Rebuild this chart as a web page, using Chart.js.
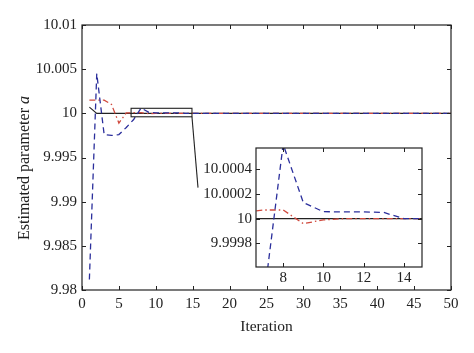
<!DOCTYPE html>
<html>
<head>
<meta charset="utf-8">
<script src="https://cdn.jsdelivr.net/npm/chart.js@4.4.0/dist/chart.umd.min.js"></script>
<style>
  html, body { margin: 0; padding: 0; background: #ffffff; }
  #wrap { position: relative; width: 474px; height: 353px; }
  #main { position: absolute; left: 0; top: 0; }
  #inset { position: absolute; left: 190px; top: 135px; }
</style>
</head>
<body>
<div id="wrap">
  <canvas id="main" width="474" height="353"></canvas>
  <canvas id="inset" width="250" height="162"></canvas>
</div>
<script>
// ---------------- DATA ----------------
const iterations = [1,2,3,4,5,6,7,8,9,10,11,12,13,14,15,16,17,18,19,20,21,22,23,24,25,26,27,28,29,30,31,32,33,34,35,36,37,38,39,40,41,42,43,44,45,46,47,48,49,50];
const blackSolid = [10.0007,10,10,10,10,10,10,10,10,10,10,10,10,10,10,10,10,10,10,10,10,10,10,10,10,10,10,10,10,10,10,10,10,10,10,10,10,10,10,10,10,10,10,10,10,10,10,10,10,10];
const blueDashed = [9.9812,10.0045,9.9976,9.9975,9.9976,9.9984,9.9993,10.0006,10.00013,10.000056,10.000055,10.000055,10.00005,10.0,10,10,10,10,10,10,10,10,10,10,10,10,10,10,10,10,10,10,10,10,10,10,10,10,10,10,10,10,10,10,10,10,10,10,10,10];
const redDashDot = [10.0015,10.0015,10.0015,10.001,9.9989,10.00005,10.00007,10.00007,9.99996,9.99999,10,10,10,10,10,10,10,10,10,10,10,10,10,10,10,10,10,10,10,10,10,10,10,10,10,10,10,10,10,10,10,10,10,10,10,10,10,10,10,10];

const mainXTicks = [0,5,10,15,20,25,30,35,40,45,50];
const mainYTicks = [9.98,9.985,9.99,9.995,10,10.005,10.01];
const mainYLabels = ["9.98","9.985","9.99","9.995","10","10.005","10.01"];
const insetXTicks = [8,10,12,14];
const insetYTicks = [9.9998,10,10.0002,10.0004];
const insetYLabels = ["9.9998","10","10.0002","10.0004"];
const insetXRange = [6.65,14.9];
const insetYRange = [9.99961,10.00057];

const xTitle = "Iteration";
const yTitle = "Estimated parameter ";
const yTitleItalic = "a";

// ---------------- STYLE ----------------
const FONT = "'Liberation Serif', 'DejaVu Serif', serif";
const BLUE = "#2b2f9c";
const RED = "#d04a3e";
const BLACK = "#222222";

function pts(ys) { return iterations.map((x, i) => ({ x: x, y: ys[i] })); }

function datasets() {
  return [
    { data: pts(blueDashed), borderColor: BLUE, borderWidth: 1.3, borderDash: [6, 4], pointRadius: 0, tension: 0, order: 1 },
    { data: pts(redDashDot), borderColor: RED, borderWidth: 1.3, borderDash: [6, 3, 1.5, 3], pointRadius: 0, tension: 0, order: 2 },
    { data: pts(blackSolid), borderColor: BLACK, borderWidth: 1.1, pointRadius: 0, tension: 0, order: 3 }
  ];
}

function drawFrame(chart, tickLen) {
  const ctx = chart.ctx, a = chart.chartArea;
  const xs = chart.scales.x, ys = chart.scales.y;
  ctx.save();
  ctx.strokeStyle = BLACK;
  ctx.lineWidth = 1.2;
  ctx.strokeRect(a.left, a.top, a.right - a.left, a.bottom - a.top);
  ctx.lineWidth = 1;
  ctx.beginPath();
  xs.ticks.forEach(t => {
    const px = Math.round(xs.getPixelForValue(t.value)) + 0.5;
    ctx.moveTo(px, a.bottom); ctx.lineTo(px, a.bottom - tickLen);
    ctx.moveTo(px, a.top); ctx.lineTo(px, a.top + tickLen);
  });
  ys.ticks.forEach(t => {
    const py = Math.round(ys.getPixelForValue(t.value)) + 0.5;
    ctx.moveTo(a.left, py); ctx.lineTo(a.left + tickLen, py);
    ctx.moveTo(a.right, py); ctx.lineTo(a.right - tickLen, py);
  });
  ctx.stroke();
  ctx.restore();
}

function setTicks(list) { return function (scale) { scale.ticks = list.map(v => ({ value: v })); }; }
const noGrid = { display: false, drawTicks: false, tickLength: 0 };

// ---------------- INSET ----------------
const insetCanvas = document.getElementById('inset');
const insetChart = new Chart(insetCanvas, {
  type: 'line',
  data: { datasets: datasets() },
  options: {
    responsive: false, animation: false, devicePixelRatio: 1,
    layout: { padding: { top: 12, right: 18, left: 0, bottom: 0 } },
    plugins: { legend: { display: false }, tooltip: { enabled: false } },
    scales: {
      x: {
        type: 'linear', min: insetXRange[0], max: insetXRange[1],
        afterBuildTicks: setTicks(insetXTicks),
        afterFit: s => { s.height = 30; },
        grid: noGrid, border: { display: false },
        ticks: { padding: 2, color: BLACK, font: { family: FONT, size: 15 }, maxRotation: 0, callback: v => String(v) }
      },
      y: {
        type: 'linear', min: insetYRange[0], max: insetYRange[1],
        afterBuildTicks: setTicks(insetYTicks),
        afterFit: s => { s.width = 66; },
        grid: noGrid, border: { display: false },
        ticks: { padding: 4, color: BLACK, font: { family: FONT, size: 15 },
          callback: v => insetYLabels[insetYTicks.indexOf(v)] }
      }
    }
  },
  plugins: [{
    id: 'insetFrame',
    beforeDatasetsDraw(chart) {
      const a = chart.chartArea, ctx = chart.ctx;
      ctx.save(); ctx.fillStyle = '#fff';
      ctx.fillRect(a.left, a.top, a.right - a.left, a.bottom - a.top);
      ctx.restore();
    },
    afterDraw(chart) { drawFrame(chart, 4); }
  }]
});

// ---------------- MAIN ----------------
const mainChart = new Chart(document.getElementById('main'), {
  type: 'line',
  data: { datasets: datasets() },
  options: {
    responsive: false, animation: false, devicePixelRatio: 1,
    layout: { padding: { top: 25, right: 23, left: 0, bottom: 0 } },
    plugins: { legend: { display: false }, tooltip: { enabled: false } },
    scales: {
      x: {
        type: 'linear', min: 0, max: 50,
        afterBuildTicks: setTicks(mainXTicks),
        afterFit: s => { s.height = 63; },
        grid: noGrid, border: { display: false },
        ticks: { padding: 5, color: BLACK, font: { family: FONT, size: 15 }, maxRotation: 0, callback: v => String(v) }
      },
      y: {
        type: 'linear', min: 9.98, max: 10.01,
        afterBuildTicks: setTicks(mainYTicks),
        afterFit: s => { s.width = 82; },
        grid: noGrid, border: { display: false },
        ticks: { padding: 5, color: BLACK, font: { family: FONT, size: 15 },
          callback: v => mainYLabels[mainYTicks.indexOf(v)] }
      }
    }
  },
  plugins: [{
    id: 'mainFrame',
    afterDraw(chart) {
      drawFrame(chart, 4);
      const ctx = chart.ctx, a = chart.chartArea;
      const xs = chart.scales.x, ys = chart.scales.y;
      // zoom rectangle
      const rx0 = xs.getPixelForValue(insetXRange[0]), rx1 = xs.getPixelForValue(insetXRange[1]);
      const ry0 = ys.getPixelForValue(insetYRange[1]), ry1 = ys.getPixelForValue(insetYRange[0]);
      ctx.save();
      ctx.strokeStyle = BLACK; ctx.lineWidth = 1.1;
      ctx.strokeRect(rx0, ry0, rx1 - rx0, ry1 - ry0);
      // connector to inset
      const iy = insetChart.scales.y;
      const ex = insetCanvas.offsetLeft + 8;
      const ey = insetCanvas.offsetTop + iy.getPixelForValue(10.00025);
      ctx.beginPath(); ctx.moveTo(rx1, ry1); ctx.lineTo(ex, ey); ctx.stroke();
      // axis titles
      ctx.fillStyle = BLACK;
      ctx.font = "15.5px " + FONT;
      ctx.textAlign = 'center'; ctx.textBaseline = 'middle';
      ctx.fillText(xTitle, (a.left + a.right) / 2, 327);
      ctx.translate(25, 168);
      ctx.rotate(-Math.PI / 2);
      ctx.font = "16px " + FONT;
      const w1 = ctx.measureText(yTitle).width;
      ctx.font = "italic 16px " + FONT;
      const w2 = ctx.measureText(yTitleItalic).width;
      ctx.textAlign = 'left';
      ctx.font = "16px " + FONT;
      ctx.fillText(yTitle, -(w1 + w2) / 2, 0);
      ctx.font = "italic 16px " + FONT;
      ctx.fillText(yTitleItalic, -(w1 + w2) / 2 + w1, 0);
      ctx.restore();
    }
  }]
});
</script>
</body>
</html>
